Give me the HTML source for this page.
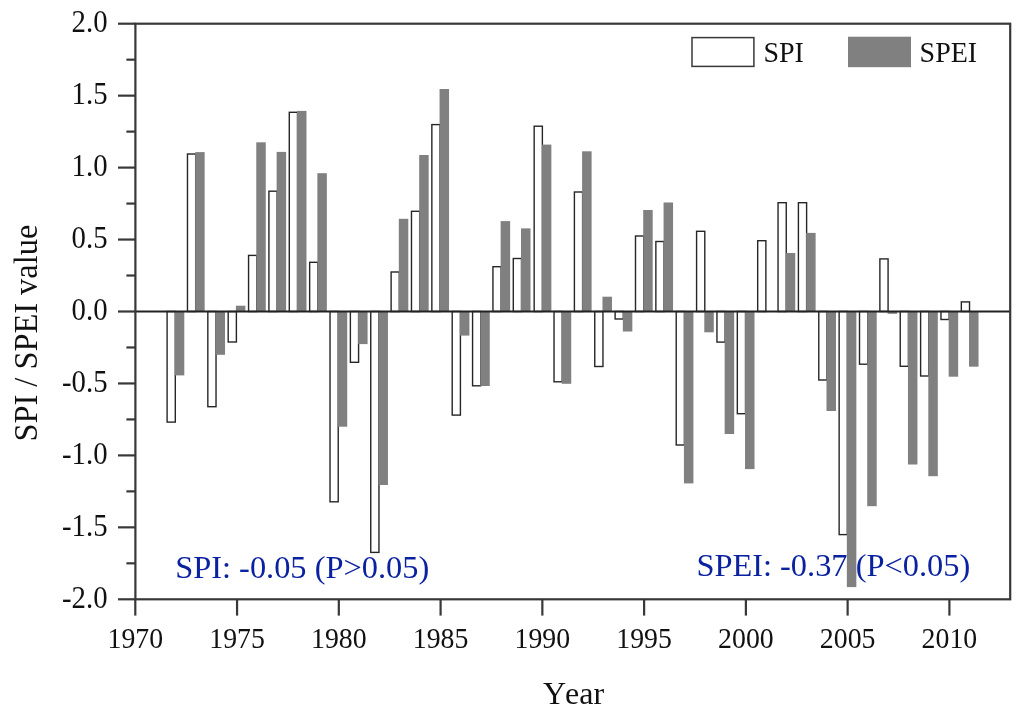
<!DOCTYPE html>
<html lang="en"><head><meta charset="utf-8"><title>SPI / SPEI</title>
<style>html,body{margin:0;padding:0;background:#fff}svg{display:block}text{font-family:"Liberation Serif","Times New Roman",serif}</style></head><body>
<svg width="1024" height="715" viewBox="0 0 1024 715">
<rect width="1024" height="715" fill="#fff"/>
<text x="175.2" y="577.9" font-size="32.4" fill="#0b22a0">SPI: -0.05 (P&gt;0.05)</text>
<text x="696.4" y="576.2" font-size="32.4" fill="#0b22a0">SPEI: -0.37 (P&lt;0.05)</text>
<g fill="#fff" stroke="#262626" stroke-width="1.4">
<rect x="167.10" y="311.50" width="8.2" height="110.60"/>
<rect x="187.47" y="154.00" width="8.2" height="157.50"/>
<rect x="207.83" y="311.50" width="8.2" height="95.20"/>
<rect x="228.19" y="311.50" width="8.2" height="30.50"/>
<rect x="248.56" y="255.40" width="8.2" height="56.10"/>
<rect x="268.92" y="191.20" width="8.2" height="120.30"/>
<rect x="289.29" y="112.30" width="8.2" height="199.20"/>
<rect x="309.65" y="262.30" width="8.2" height="49.20"/>
<rect x="330.02" y="311.50" width="8.2" height="190.30"/>
<rect x="350.38" y="311.50" width="8.2" height="50.80"/>
<rect x="370.75" y="311.50" width="8.2" height="240.90"/>
<rect x="391.12" y="272.00" width="8.2" height="39.50"/>
<rect x="411.48" y="211.30" width="8.2" height="100.20"/>
<rect x="431.85" y="124.60" width="8.2" height="186.90"/>
<rect x="452.21" y="311.50" width="8.2" height="103.60"/>
<rect x="472.57" y="311.50" width="8.2" height="74.30"/>
<rect x="492.94" y="266.70" width="8.2" height="44.80"/>
<rect x="513.30" y="258.50" width="8.2" height="53.00"/>
<rect x="534.17" y="126.20" width="8.2" height="185.30"/>
<rect x="554.03" y="311.50" width="8.2" height="70.30"/>
<rect x="574.40" y="192.00" width="8.2" height="119.50"/>
<rect x="594.76" y="311.50" width="8.2" height="55.00"/>
<rect x="615.13" y="311.50" width="8.2" height="7.50"/>
<rect x="635.50" y="236.00" width="8.2" height="75.50"/>
<rect x="655.86" y="241.50" width="8.2" height="70.00"/>
<rect x="676.22" y="311.50" width="8.2" height="133.50"/>
<rect x="696.59" y="231.30" width="8.2" height="80.20"/>
<rect x="716.95" y="311.50" width="8.2" height="30.60"/>
<rect x="737.32" y="311.50" width="8.2" height="102.20"/>
<rect x="757.68" y="240.70" width="8.2" height="70.80"/>
<rect x="778.05" y="202.70" width="8.2" height="108.80"/>
<rect x="798.41" y="202.70" width="8.2" height="108.80"/>
<rect x="818.78" y="311.50" width="8.2" height="68.50"/>
<rect x="839.14" y="311.50" width="8.2" height="223.10"/>
<rect x="859.51" y="311.50" width="8.2" height="52.70"/>
<rect x="879.88" y="258.90" width="8.2" height="52.60"/>
<rect x="900.24" y="311.50" width="8.2" height="54.80"/>
<rect x="920.61" y="311.50" width="8.2" height="64.50"/>
<rect x="940.97" y="311.50" width="8.2" height="8.00"/>
<rect x="961.33" y="301.90" width="8.2" height="9.60"/>
</g>
<g fill="#808080">
<rect x="174.80" y="311.50" width="9.5" height="63.90"/>
<rect x="195.16" y="152.10" width="9.5" height="159.40"/>
<rect x="215.53" y="311.50" width="9.5" height="43.30"/>
<rect x="235.89" y="305.70" width="9.5" height="5.80"/>
<rect x="256.26" y="142.30" width="9.5" height="169.20"/>
<rect x="276.62" y="151.90" width="9.5" height="159.60"/>
<rect x="296.99" y="110.90" width="9.5" height="200.60"/>
<rect x="317.35" y="173.20" width="9.5" height="138.30"/>
<rect x="337.72" y="311.50" width="9.5" height="115.20"/>
<rect x="358.08" y="311.50" width="9.5" height="32.60"/>
<rect x="378.45" y="311.50" width="9.5" height="173.50"/>
<rect x="398.81" y="218.80" width="9.5" height="92.70"/>
<rect x="419.18" y="155.00" width="9.5" height="156.50"/>
<rect x="439.55" y="89.00" width="9.5" height="222.50"/>
<rect x="459.91" y="311.50" width="9.5" height="24.10"/>
<rect x="480.27" y="311.50" width="9.5" height="74.50"/>
<rect x="500.64" y="221.10" width="9.5" height="90.40"/>
<rect x="521.00" y="228.40" width="9.5" height="83.10"/>
<rect x="541.87" y="144.60" width="9.5" height="166.90"/>
<rect x="561.74" y="311.50" width="9.5" height="72.30"/>
<rect x="582.10" y="151.30" width="9.5" height="160.20"/>
<rect x="602.47" y="296.70" width="9.5" height="14.80"/>
<rect x="622.83" y="311.50" width="9.5" height="20.00"/>
<rect x="643.20" y="210.00" width="9.5" height="101.50"/>
<rect x="663.56" y="202.50" width="9.5" height="109.00"/>
<rect x="683.92" y="311.50" width="9.5" height="171.90"/>
<rect x="704.29" y="311.50" width="9.5" height="20.80"/>
<rect x="724.65" y="311.50" width="9.5" height="122.50"/>
<rect x="745.02" y="311.50" width="9.5" height="157.60"/>
<rect x="785.75" y="253.00" width="9.5" height="58.50"/>
<rect x="806.12" y="232.90" width="9.5" height="78.60"/>
<rect x="826.48" y="311.50" width="9.5" height="99.50"/>
<rect x="846.85" y="311.50" width="9.5" height="275.60"/>
<rect x="867.21" y="311.50" width="9.5" height="194.70"/>
<rect x="887.58" y="311.50" width="9.5" height="2.30"/>
<rect x="907.94" y="311.50" width="9.5" height="153.00"/>
<rect x="928.31" y="311.50" width="9.5" height="164.70"/>
<rect x="948.67" y="311.50" width="9.5" height="65.20"/>
<rect x="969.03" y="311.50" width="9.5" height="55.20"/>
</g>
<line x1="135.4" y1="311.5" x2="1010.2" y2="311.5" stroke="#222" stroke-width="1.8"/>
<g stroke="#383838" stroke-width="2.2" fill="none">
<rect x="135.4" y="23.7" width="874.8000000000001" height="575.5999999999999"/>
<line x1="118.00" y1="23.70" x2="135.4" y2="23.70"/>
<line x1="126.40" y1="59.67" x2="135.4" y2="59.67"/>
<line x1="118.00" y1="95.65" x2="135.4" y2="95.65"/>
<line x1="126.40" y1="131.62" x2="135.4" y2="131.62"/>
<line x1="118.00" y1="167.60" x2="135.4" y2="167.60"/>
<line x1="126.40" y1="203.57" x2="135.4" y2="203.57"/>
<line x1="118.00" y1="239.55" x2="135.4" y2="239.55"/>
<line x1="126.40" y1="275.52" x2="135.4" y2="275.52"/>
<line x1="118.00" y1="311.50" x2="135.4" y2="311.50"/>
<line x1="126.40" y1="347.47" x2="135.4" y2="347.47"/>
<line x1="118.00" y1="383.45" x2="135.4" y2="383.45"/>
<line x1="126.40" y1="419.42" x2="135.4" y2="419.42"/>
<line x1="118.00" y1="455.40" x2="135.4" y2="455.40"/>
<line x1="126.40" y1="491.37" x2="135.4" y2="491.37"/>
<line x1="118.00" y1="527.35" x2="135.4" y2="527.35"/>
<line x1="126.40" y1="563.32" x2="135.4" y2="563.32"/>
<line x1="118.00" y1="599.30" x2="135.4" y2="599.30"/>
<line x1="135.30" y1="599.3" x2="135.30" y2="615.6"/>
<line x1="237.06" y1="599.3" x2="237.06" y2="615.6"/>
<line x1="338.82" y1="599.3" x2="338.82" y2="615.6"/>
<line x1="440.59" y1="599.3" x2="440.59" y2="615.6"/>
<line x1="542.35" y1="599.3" x2="542.35" y2="615.6"/>
<line x1="644.11" y1="599.3" x2="644.11" y2="615.6"/>
<line x1="745.88" y1="599.3" x2="745.88" y2="615.6"/>
<line x1="847.64" y1="599.3" x2="847.64" y2="615.6"/>
<line x1="949.40" y1="599.3" x2="949.40" y2="615.6"/>
</g>
<g fill="#111">
<text transform="translate(107.6 31.90) scale(1 1.07)" font-size="28.8" text-anchor="end">2.0</text>
<text transform="translate(107.6 103.85) scale(1 1.07)" font-size="28.8" text-anchor="end">1.5</text>
<text transform="translate(107.6 175.80) scale(1 1.07)" font-size="28.8" text-anchor="end">1.0</text>
<text transform="translate(107.6 247.75) scale(1 1.07)" font-size="28.8" text-anchor="end">0.5</text>
<text transform="translate(107.6 319.70) scale(1 1.07)" font-size="28.8" text-anchor="end">0.0</text>
<text transform="translate(107.6 391.65) scale(1 1.07)" font-size="28.8" text-anchor="end">-0.5</text>
<text transform="translate(107.6 463.60) scale(1 1.07)" font-size="28.8" text-anchor="end">-1.0</text>
<text transform="translate(107.6 535.55) scale(1 1.07)" font-size="28.8" text-anchor="end">-1.5</text>
<text transform="translate(107.6 607.50) scale(1 1.07)" font-size="28.8" text-anchor="end">-2.0</text>
<text transform="translate(135.30 648.4) scale(1 1.07)" font-size="27.8" text-anchor="middle">1970</text>
<text transform="translate(237.06 648.4) scale(1 1.07)" font-size="27.8" text-anchor="middle">1975</text>
<text transform="translate(338.82 648.4) scale(1 1.07)" font-size="27.8" text-anchor="middle">1980</text>
<text transform="translate(440.59 648.4) scale(1 1.07)" font-size="27.8" text-anchor="middle">1985</text>
<text transform="translate(542.35 648.4) scale(1 1.07)" font-size="27.8" text-anchor="middle">1990</text>
<text transform="translate(644.11 648.4) scale(1 1.07)" font-size="27.8" text-anchor="middle">1995</text>
<text transform="translate(745.88 648.4) scale(1 1.07)" font-size="27.8" text-anchor="middle">2000</text>
<text transform="translate(847.64 648.4) scale(1 1.07)" font-size="27.8" text-anchor="middle">2005</text>
<text transform="translate(949.40 648.4) scale(1 1.07)" font-size="27.8" text-anchor="middle">2010</text>
</g>
<text x="543" y="704" font-size="32" fill="#111" style="font-kerning:none" dx="0 -1 0 0">Year</text>
<text transform="translate(36.6 441.6) rotate(-90) scale(1 1.07)" font-size="32.4" fill="#111">SPI / SPEI value</text>
<rect x="692" y="37.6" width="61.9" height="28.8" fill="#fff" stroke="#383838" stroke-width="1.5"/>
<text transform="translate(763.4 61.8) scale(1 1.05)" font-size="28" fill="#111">SPI</text>
<rect x="848" y="36.7" width="63" height="30.5" fill="#808080"/>
<text transform="translate(919.6 61.8) scale(1 1.05)" font-size="28" fill="#111">SPEI</text>
</svg></body></html>
